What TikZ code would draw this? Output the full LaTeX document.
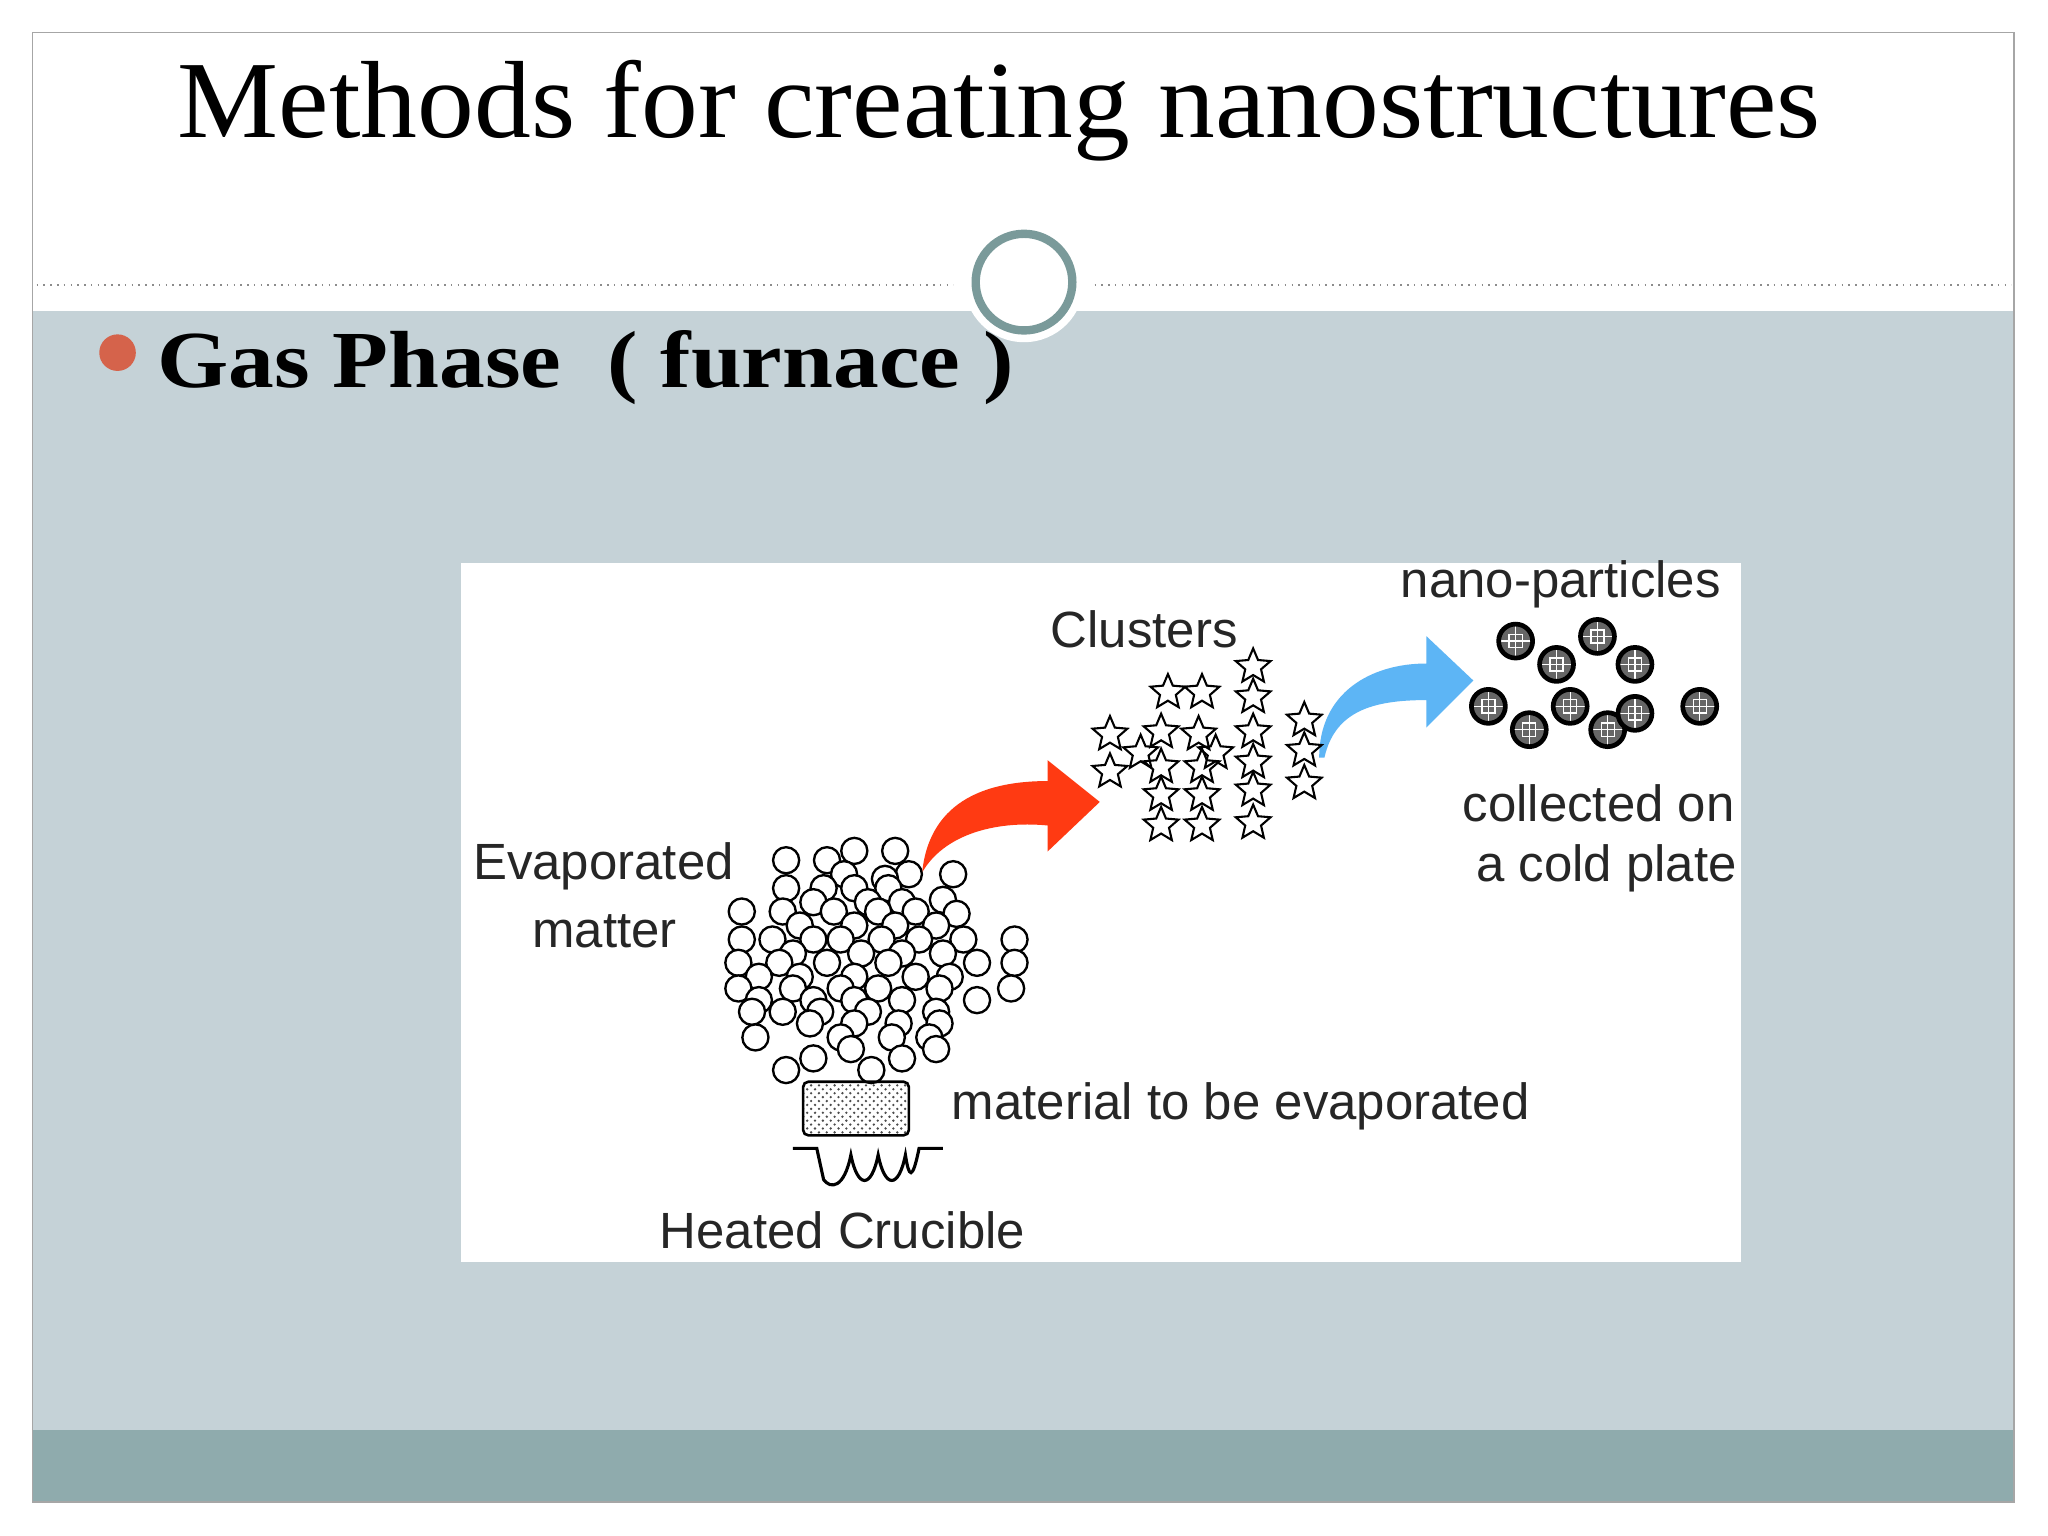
\documentclass[tikz,border=0pt]{standalone}
\usepackage{fontspec}
\setmainfont{Liberation Serif}
\setsansfont{Liberation Sans}
\usetikzlibrary{shapes.geometric,patterns}
\definecolor{bodybg}{HTML}{C5D2D7}
\definecolor{bandbg}{HTML}{8FABAD}
\definecolor{ringc}{HTML}{7A9A9A}
\definecolor{bulletc}{HTML}{D5634B}
\definecolor{redarr}{HTML}{FF3A12}
\definecolor{bluearr}{HTML}{5DB5F5}
\tikzset{
  lbl/.style={font=\sffamily\fontsize{19.5}{22}\selectfont, text=black!85, inner sep=0},
  bub/.style={circle, draw=black, line width=0.9pt, fill=white, minimum size=10pt, inner sep=0},
  st/.style={star, star points=5, star point ratio=2.2, draw=black, line width=0.8pt, minimum size=14pt, inner sep=0},
  np/.style={circle, draw=black, line width=1.8pt, fill=black!60, minimum size=13pt, inner sep=0,
     path picture={\draw[white,line width=0.5pt] (path picture bounding box.west) -- (path picture bounding box.east)
       (path picture bounding box.north) -- (path picture bounding box.south);
       \draw[white,line width=0.5pt] (-2.5pt,-2.5pt) rectangle (2.5pt,2.5pt);}}
}
\begin{document}
\begin{tikzpicture}[x=0.5pt,y=-0.5pt]
\useasboundingbox (0,0) rectangle (1568,1176);
\fill[white] (0,0) rectangle (1568,1176);
\fill[bodybg] (25,238) rectangle (1542,1095);
\fill[bandbg] (25,1095) rectangle (1542,1150);
\draw[black!35, line width=0.6pt] (25,25) rectangle (1542,1150);
\draw[black!45, dotted, line width=0.6pt] (28,218) -- (730,218);
\draw[black!45, dotted, line width=0.6pt] (838,218) -- (1540,218);
\fill[white] (784,216) circle (46);
\draw[ringc, line width=3.2pt, fill=white] (784,216) circle (37);
\node[anchor=base, inner sep=0, font=\fontsize{42}{46}\selectfont, xscale=1.035] (title) at (765,105) {Methods for creating nanostructures};
\fill[bulletc] (90,270) circle (14);
\node[anchor=base west, inner sep=0, font=\bfseries\fontsize{31}{36}\selectfont, xscale=1.13] (gas) at (120,297) {Gas Phase\ \ ( furnace )};
% figure
\fill[white] (353,431) rectangle (1333,966);
\node[lbl] (np) at (1195,447) {nano-particles};
\node[lbl] (cl) at (876,482) {Clusters};
\node[lbl] (ev1) at (462,663) {Evaporated};
\node[lbl] (ev2) at (463,713) {matter};
\node[lbl] (co1) at (1224,615) {collected on};
\node[lbl] (co2) at (1230,665) {a cold plate};
\node[lbl] (mat) at (950,847) {material to be evaporated};
\node[lbl] (hc) at (645,942) {Heated Crucible};
% arrows
\fill[redarr] (706,668) .. controls (712,610) and (760,598) .. (802,598) -- (802,582) -- (842,614) -- (802,652) -- (802,632) .. controls (760,628) and (722,640) .. (706,668) -- cycle;
\fill[bluearr] (1010,580) .. controls (1010,530) and (1050,508) .. (1092,508) -- (1092,487) -- (1128,521) -- (1092,557) -- (1092,536) .. controls (1050,536) and (1022,545) .. (1014,580) -- cycle;
\begin{scope}[shift={(534,423)}, xscale=0.522, yscale=0.357]
  \foreach \x/\y in {130/660,190/660,230/640,290/640,310/690,375/690,215/690,275/700,130/720,185/720,230/720,280/720,
    170/750,250/750,300/750,360/745,65/770,125/770,200/770,265/770,320/770,380/775,150/800,230/800,290/800,350/800,
    65/830,110/830,170/830,210/830,270/830,325/830,390/830,465/830,140/860,240/860,300/860,360/860,
    60/880,120/880,190/880,280/880,410/880,465/880,90/910,150/910,230/910,320/910,370/910,
    60/935,140/935,210/935,265/935,355/935,460/935,90/960,170/960,230/960,300/960,410/960,
    80/985,125/985,180/985,250/985,350/985,165/1010,230/1010,295/1010,355/1010,85/1040,210/1040,285/1040,340/1040,
    225/1065,350/1065,170/1085,300/1085,130/1110,255/1110}
    \node[bub] at (\x,\y) {};
  \foreach \x/\y in {690/300,740/300,815/245,815/310,605/390,680/385,735/390,815/385,890/360,605/470,680/460,740/460,815/450,890/425,
    680/520,740/520,815/510,890/495,680/585,740/585,815/580,650/430,760/430}
    \node[st] at (\x,\y) {};
  \foreach \x/\y in {1200/190,1260/240,1320/180,1375/240,1160/330,1220/380,1280/330,1335/380,1375/345,1470/330}
    \node[np] at (\x,\y) {};
  \draw[black, line width=1pt, pattern=crosshatch dots, pattern color=black!70, rounded corners=2] (155,1135) rectangle (310,1250);
  \draw[black, line width=1.2pt] (140,1278) -- (175,1278) -- (185,1345) .. controls (195,1365) and (215,1365) .. (225,1292)
     .. controls (235,1365) and (255,1365) .. (265,1292) .. controls (275,1365) and (295,1365) .. (305,1292)
     .. controls (310,1340) and (315,1350) .. (325,1278) -- (360,1278);
\end{scope}
\end{tikzpicture}
\end{document}
